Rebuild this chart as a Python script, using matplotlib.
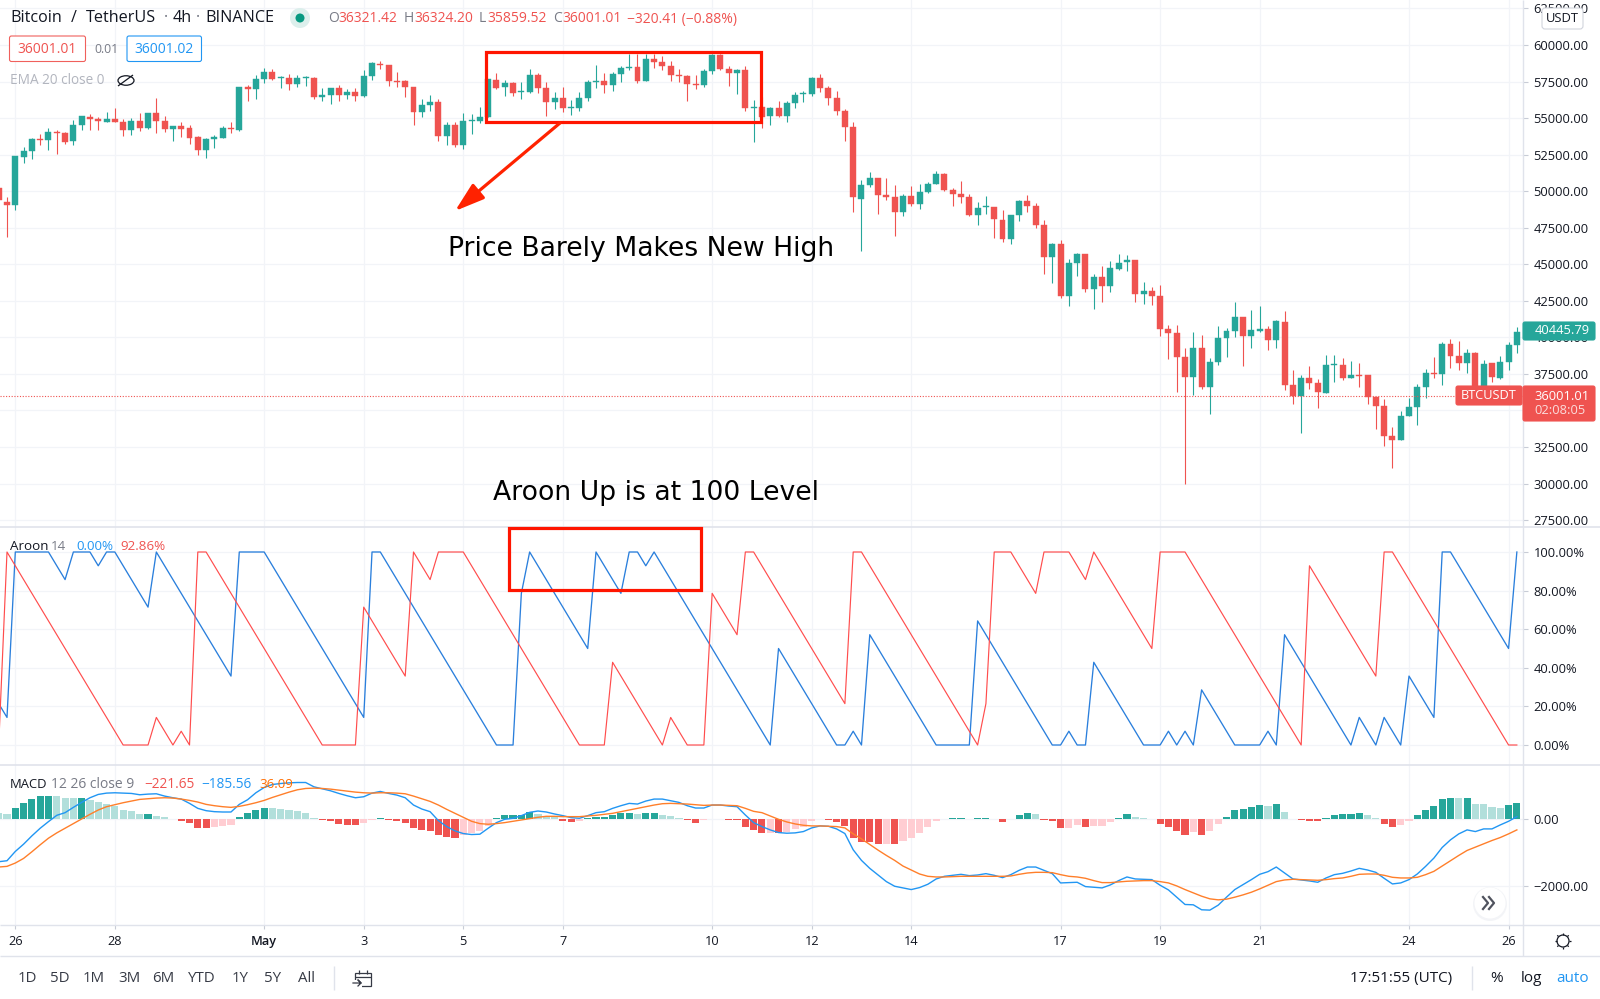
import matplotlib
matplotlib.use("Agg")
import matplotlib.pyplot as plt
from matplotlib.patches import Rectangle, FancyBboxPatch, Circle, Ellipse
from matplotlib.ticker import FuncFormatter

plt.rcParams['font.family'] = ['Open Sans', 'DejaVu Sans']

# ---------- data ----------
open_ = [50196,49284,49056,52362,52750,53570,53525,54049,53958,53411,54505,55098,54961,54733,54961,54733,54186,54824,54323,55372,54802,54254,54460,54300,53684,52818,53548,53639,54323,54186,57104,56990,57674,58130,57743,57766,57332,57766,57766,56420,56580,57059,56580,56785,56512,57880,58700,58632,57538,57515,57127,55417,55873,56124,53753,54528,53160,54802,54824,55098,57606,
 57104,57378,56762,56785,57948,57059,56124,56352,55668,55714,56398,57492,57560,57287,58039,58427,58518,57538,59020,58837,58586,57971,57857,57332,57241,58199,59316,58358,58062,58267,55691,55736,55144,55691,55144,56056,56626,56626,57720,57082,56375,55486,54391,49489,50447,50880,49740,49603,48554,49672,49102,49945,50515,51154,50082,49786,
 49589,48404,48905,48951,48062,46716,48358,49316,48996,47674,45508,46397,42840,45098,45690,43319,44140,43502,44710,45166,45280,42954,43205,42818,40560,40332,38691,37300,39284,36616,38303,39945,40446,41381,40082,40469,40606,39808,41085,36753,36000,37254,36912,36228,38098,38098,37232,37437,37414,35909,35316,33287,33014,34632,35225,36616,37596,37505,39557,38759,38258,38965,36502,38235,37254,38303,39489]
close = [49398,49056,52408,52750,53570,53502,54026,54004,53388,54505,55121,54938,54779,54961,54733,54186,54824,54323,55372,54824,54232,54437,54277,53662,52818,53548,53684,54323,54254,57150,56990,57674,58130,57697,57811,57332,57743,57811,56420,56580,57059,56580,56762,56512,57880,58746,58632,57538,57469,57127,55417,55873,56101,53753,54528,53137,54802,54870,55098,57652,57082,
 57378,56740,56808,57925,57059,56124,56352,55668,55736,56398,57492,57560,57287,58016,58427,58518,57538,59020,58837,58586,57925,57902,57355,57264,58222,59316,58358,58062,58267,55668,55736,55098,55714,55144,56056,56557,56694,57720,57082,56398,55463,54414,49626,50447,50880,49763,49626,48554,49672,49102,49945,50492,51154,50082,49808,49626,
 48404,48882,48951,48084,46716,48358,49316,48996,47674,45508,46397,42840,45098,45690,43319,44140,43524,44733,45120,45303,42954,43205,42840,40560,40332,38668,37300,39284,36593,38303,39945,40446,41381,40082,40492,40606,39808,41108,36753,36000,37209,36912,36251,38098,38166,37209,37437,37391,35909,35316,33264,33014,34632,35225,36616,37574,37505,39557,38759,38258,38942,36502,38212,37277,38303,39489,40401]
high = [50538,49580,52408,53023,53616,53890,54323,54186,54026,54870,55166,55258,55098,55440,55691,54938,55030,55326,55372,56398,55144,54460,54710,54505,53776,53616,53844,54460,54710,57150,57264,57948,58404,58358,57880,57994,57971,57880,57811,57036,57059,57241,56968,57059,58290,58860,58928,58632,58130,57606,57150,56329,56603,56284,54710,54733,55372,55258,55782,57652,58062,
 57606,57492,57492,58336,58062,57469,56785,57104,56261,56785,57606,58632,58062,58176,58586,59384,59384,59384,59384,59248,58928,58381,57971,57948,58381,59384,59384,58564,58336,58564,56238,56466,55782,56170,56170,56808,56876,57811,57994,57196,56854,55622,54733,50766,51313,50880,50880,50424,49786,50378,50492,50652,51404,51222,50242,50675,
 49840,49270,49703,48951,48700,48404,49430,49772,49224,48062,46443,46648,45394,45782,45736,44368,44870,45234,45736,45622,45326,43775,43479,43570,40834,40857,39261,40401,40196,38577,40766,40674,42430,41404,41906,42156,40766,41222,41792,37802,37414,38075,37186,38805,38805,38577,38372,38235,37414,35932,35772,33880,34952,35864,36844,37870,38645,39717,39922,39740,39192,39010,38463,38280,38714,39671,40720]
low = [48942,46890,48714,51952,52225,53160,52841,52567,53228,53137,54186,54186,54163,54710,54710,53776,53867,54140,54232,53958,54049,53456,53684,53228,52453,52294,52978,53639,54004,54140,56192,56306,57401,57606,57082,56899,57104,57196,56329,56147,55987,56170,56284,56170,56466,57606,58358,57196,57104,56420,54528,55075,55508,53456,53160,53046,52864,53912,54642,55052,57013,
 56534,56534,56284,56740,56694,55144,55645,55417,55189,55508,56170,57082,56694,56854,57469,58290,57424,57515,58427,58267,57515,57492,56170,56990,57150,57994,58290,57218,56648,55508,53388,54323,54528,55098,54733,55691,56124,56534,56808,55896,55189,53434,48554,45932,50264,48418,49398,46958,48326,49010,48760,49900,50470,50036,49010,49170,
 48335,47674,48472,46830,46511,46420,47970,48609,47514,44368,43752,42726,42134,44208,43114,41951,42430,43091,44642,44528,42453,42316,42202,40082,38531,36274,30000,36046,36502,34792,38121,38668,40036,38075,39306,40378,39124,39261,36388,35453,33470,36479,35157,36206,36935,37118,37209,36616,35476,33766,32558,31076,32968,34610,33994,35841,37209,36776,37893,37756,37574,36434,36388,36935,37186,37756,38919]

aroon_up = [21.43,14.29,100,100,100,100,100,92.86,85.71,100,100,100,92.86,100,100,92.86,85.71,78.57,71.43,100,92.86,85.71,78.57,71.43,64.29,57.14,50,42.86,35.71,100,100,100,100,
 92.86,85.71,78.57,71.43,64.29,57.14,50,42.86,35.71,28.57,21.43,14.29,100,100,
 92.86,85.71,78.57,71.43,64.29,57.14,50,42.86,35.71,28.57,21.43,14.29,7.14,0,0,0,78.57,100,
 92.86,85.71,78.57,71.43,64.29,57.14,50,100,92.86,85.71,78.57,100,100,92.86,100,
 92.86,85.71,78.57,71.43,64.29,57.14,50,42.86,35.71,28.57,21.43,14.29,7.14,0,
 50,42.86,35.71,28.57,21.43,14.29,7.14,0,0,7.14,0,57.14,50,42.86,35.71,28.57,21.43,14.29,7.14,0,0,0,0,0,
 64.29,57.14,50,42.86,35.71,28.57,21.43,14.29,7.14,0,0,7.14,0,0,42.86,35.71,28.57,21.43,14.29,7.14,0,0,0,7.14,0,7.14,0,
 28.57,21.43,14.29,7.14,0,0,0,0,7.14,0,57.14,50,42.86,35.71,28.57,21.43,14.29,7.14,0,14.29,7.14,0,14.29,7.14,0,
 35.71,28.57,21.43,14.29,100,100,92.86,85.71,78.57,71.43,64.29,57.14,50,100]
aroon_down = [0,100,92.86,85.71,78.57,71.43,64.29,57.14,50,42.86,35.71,28.57,21.43,14.29,7.14,0,0,0,0,14.29,7.14,0,7.14,0,100,100,
 92.86,85.71,78.57,71.43,64.29,57.14,50,42.86,35.71,28.57,21.43,14.29,7.14,0,0,0,0,0,
 71.43,64.29,57.14,50,42.86,35.71,100,92.86,85.71,100,100,100,100,
 92.86,85.71,78.57,71.43,64.29,57.14,50,42.86,35.71,28.57,21.43,14.29,7.14,0,0,0,0,
 42.86,35.71,28.57,21.43,14.29,7.14,0,14.29,7.14,0,0,0,78.57,71.43,64.29,57.14,100,100,
 92.86,85.71,78.57,71.43,64.29,57.14,50,42.86,35.71,28.57,21.43,100,100,
 92.86,85.71,78.57,71.43,64.29,57.14,50,42.86,35.71,28.57,21.43,14.29,7.14,0,21.43,100,100,100,
 92.86,85.71,78.57,100,100,100,100,92.86,85.71,100,92.86,85.71,78.57,71.43,64.29,57.14,50,100,100,100,100,
 92.86,85.71,78.57,71.43,64.29,57.14,50,42.86,35.71,28.57,21.43,14.29,7.14,0,
 92.86,85.71,78.57,71.43,64.29,57.14,50,42.86,35.71,100,100,
 92.86,85.71,78.57,71.43,64.29,57.14,50,42.86,35.71,28.57,21.43,14.29,7.14,0,0]

macd = [-1280,-1250,-970,-750,-500,-270,-70,120,200,360,510,650,750,790,800,790,780,740,760,770,700,650,610,480,330,260,230,220,220,450,590,800,960,1050,1080,1100,1110,1110,980,920,860,780,710,650,680,790,840,780,730,650,430,310,230,-40,-220,-350,-430,-460,-450,-270,-100,0,30,110,210,250,220,160,110,50,30,110,200,230,330,410,480,460,550,610,610,560,510,410,340,340,430,430,400,380,130,-100,
 -220,-320,-400,-420,-410,-370,-260,-200,-210,-290,-430,-920,-1240,-1480,-1680,-1880,-2020,-2070,-2120,-2060,-1960,-1800,-1720,-1690,-1660,-1700,-1680,-1640,-1690,-1760,-1670,-1540,-1440,-1440,-1540,-1640,-1920,-1910,-1900,-2030,-2050,-2070,-1980,-1850,-1740,-1800,-1810,-1820,-1990,-2130,-2350,-2570,-2580,-2730,-2740,-2590,-2350,-2120,-1970,-1820,-1660,-1580,-1440,-1620,-1800,-1830,-1860,-1900,-1770,-1670,-1630,-1560,-1480,-1530,-1600,-1780,-1950,-1920,-1820,-1650,-1420,-1170,-850,-620,-440,-320,-370,-290,-290,-170,-60,80]
signal = [-1440,-1420,-1320,-1180,-980,-770,-570,-410,-270,-130,10,150,280,380,440,500,550,600,620,640,650,640,610,570,520,450,410,380,360,390,440,500,570,660,740,820,890,930,940,930,910,880,850,820,800,790,800,800,790,770,700,620,540,430,300,180,60,-60,-130,-150,-130,-100,-60,-20,20,60,90,90,80,80,80,100,120,150,180,230,280,330,380,430,470,480,470,460,440,420,430,430,420,410,330,240,
 200,100,0,-80,-140,-180,-200,-200,-210,-220,-260,-440,-590,-760,-930,-1090,-1240,-1410,-1530,-1650,-1720,-1740,-1740,-1730,-1720,-1720,-1720,-1720,-1720,-1720,-1710,-1660,-1620,-1600,-1600,-1610,-1670,-1720,-1740,-1780,-1850,-1910,-1910,-1890,-1870,-1860,-1850,-1850,-1880,-1920,-2010,-2120,-2220,-2320,-2400,-2430,-2410,-2350,-2280,-2200,-2100,-1990,-1880,-1830,-1810,-1820,-1830,-1840,-1820,-1790,-1770,-1720,-1660,-1650,-1650,-1690,-1750,-1770,-1770,-1750,-1670,-1570,-1410,-1250,-1090,-940,-840,-740,-640,-550,-440,-320]
hist = [180,160,350,500,620,690,710,700,640,630,640,580,520,450,400,280,240,160,170,100,60,20,-50,-100,-250,-260,-240,-200,-160,70,190,270,350,345,300,270,240,190,50,-20,-40,-140,-160,-180,-100,-20,40,-20,-60,-100,-270,-330,-340,-480,-520,-570,-470,-400,-360,-200,30,120,130,135,230,160,100,70,-40,-80,-50,30,70,80,140,190,195,150,180,185,140,100,40,-30,-100,-30,20,10,-20,-25,-220,-320,
 -410,-400,-410,-380,-280,-220,-60,20,-10,-80,-200,-550,-680,-700,-750,-745,-760,-640,-560,-400,-240,-60,20,25,50,10,30,40,20,-80,10,130,190,160,-20,-60,-270,-260,-160,-240,-200,-190,-70,40,160,60,40,10,-140,-220,-340,-470,-380,-460,-360,-150,60,280,320,370,420,400,460,220,10,-20,-40,-60,50,130,150,170,190,120,50,-140,-240,-170,-60,130,280,400,600,650,640,645,460,455,360,355,420,480]

bars = list(range(-2, 182))
for name, s in [('o',open_),('c',close),('h',high),('l',low),('u',aroon_up),('d',aroon_down),('m',macd),('s',signal),('x',hist)]:
    assert len(s) == len(bars), (name, len(s))

day_ticks = [0, 12, 30, 42, 54, 66, 84, 96, 108, 126, 138, 150, 168, 180]
day_labels = ['26', '28', 'May', '3', '5', '7', '10', '12', '14', '17', '19', '21', '24', '26']
price_ticks = [27500 + 2500 * k for k in range(15)]
aroon_ticks = [0, 20, 40, 60, 80, 100]
macd_ticks = [-2000, 0]
last_price = 36001.01

# ---------- colours ----------
UP, DOWN = '#26a69a', '#ef5350'
LIGHT_UP, LIGHT_DOWN = '#b2dfdb', '#ffcdd2'
GRID, BORDER = '#f2f4f8', '#e0e3eb'
INK = '#131722'
W, H = 1600, 999
fig = plt.figure(figsize=(W / 100, H / 100), dpi=100, facecolor='white')

def pane(y0, y1):
    ax = fig.add_axes([0, 1 - y1 / H, 1523 / W, (y1 - y0) / H])
    for s in ax.spines.values():
        s.set_visible(False)
    ax.set_xlim(-1.844, 181.74)
    ax.set_xticks(day_ticks)
    ax.yaxis.tick_right()
    ax.grid(True, color=GRID, lw=0.9)
    ax.set_axisbelow(True)
    ax.tick_params(axis='x', length=0, labelbottom=False)
    ax.tick_params(axis='y', length=3.6, width=0.8, color='#c8ccd6', labelsize=9.3, labelcolor=INK, pad=4)
    return ax

# price pane
ax1 = pane(0, 527)
ax1.set_ylim(27031, 63078)
ax1.set_yticks(price_ticks)
ax1.yaxis.set_major_formatter(FuncFormatter(lambda v, p: f'{v:.2f}'))
cols = [UP if c >= o else DOWN for o, c in zip(open_, close)]
ax1.vlines(bars, low, high, colors=cols, lw=0.8, zorder=3)
ax1.bar(bars, [max(abs(c - o), 60) for o, c in zip(open_, close)], bottom=[min(o, c) for o, c in zip(open_, close)],
        width=0.72, color=cols, edgecolor=cols, lw=0.3, zorder=4)
ax1.axhline(last_price, color=DOWN, lw=0.8, ls=(0, (1, 1.5)), zorder=5)

# aroon pane
ax2 = pane(527, 765)
ax2.set_ylim(-10.36, 112.95)
ax2.set_yticks(aroon_ticks)
ax2.yaxis.set_major_formatter(FuncFormatter(lambda v, p: f'{v:.2f}%'))
ax2.plot(bars, aroon_up, color='#2a7fdc', lw=0.95, zorder=3)
ax2.plot(bars, aroon_down, color='#ff4d4d', lw=0.85, zorder=3)

# macd pane
ax3 = pane(765, 925)
ax3.set_ylim(-3189, 1638)
ax3.set_yticks(macd_ticks)
ax3.yaxis.set_major_formatter(FuncFormatter(lambda v, p: (f'{v:.2f}').replace('-', '\u2212')))
hcols = []
prev = None
for v in hist:
    rising = prev is None or v >= prev
    if v >= 0:
        hcols.append(UP if (rising and prev is not None) else LIGHT_UP)
    else:
        hcols.append(LIGHT_DOWN if rising else DOWN)
    prev = v
ax3.bar(bars, hist, width=0.86, color=hcols, lw=0, zorder=2)
ax3.plot(bars, macd, color='#2196f3', lw=1.0, zorder=3)
ax3.plot(bars, signal, color='#ff7f2a', lw=1.0, zorder=4)
ax3.tick_params(axis='x', length=3, width=0.8, color='#c8ccd6', labelbottom=True, labelsize=9.2, labelcolor=INK, pad=4.5)
ax3.set_xticklabels(day_labels)
for t in ax3.get_xticklabels():
    if t.get_text() == 'May':
        t.set_fontweight('semibold')

# ---------- overlay in pixel coordinates for chrome and annotations ----------
ov = fig.add_axes([0, 0, 1, 1], zorder=10)
ov.set_xlim(0, W)
ov.set_ylim(H, 0)
ov.axis('off')
ov.patch.set_alpha(0)

def line(x0, y0, x1, y1, c=BORDER, lw=1.0, z=6):
    ov.plot([x0, x1], [y0, y1], color=c, lw=lw, zorder=z, solid_capstyle='butt')

def txt(x, y, s, c=INK, size=9.0, ha='left', z=20, **kw):
    ov.text(x, y, s, color=c, fontsize=size, ha=ha, va='center', zorder=z, **kw)

def box(x0, y0, x1, y1, fc, ec=None, r=2.0, z=12, lw=0.8):
    ov.add_patch(FancyBboxPatch((x0 + r, y0 + r), x1 - x0 - 2 * r, y1 - y0 - 2 * r,
                                boxstyle=f'round,pad={r},rounding_size={r}', fc=fc, ec=ec or fc, lw=lw, zorder=z,
                                mutation_aspect=1))

# separators
line(0, 527, 1600, 527, lw=1.2)
line(0, 765, 1600, 765, lw=1.2)
line(0, 925, 1600, 925, lw=1.0)
line(0, 956, 1600, 956, lw=1.0)
line(1523, 0, 1523, 956, lw=1.0)

# header legend
for x, s in [(10, 'Bitcoin'), (71, '/'), (86, 'TetherUS'), (172.5, '4h'), (205, 'BINANCE')]:
    txt(x, 18, s, size=11.6)
txt(164, 18, '·', c='#787b86', size=11.6)
txt(196, 18, '·', c='#787b86', size=11.6)
ov.add_patch(Circle((300, 18), 10, fc='#dcefec', ec='none', zorder=12))
ov.add_patch(Circle((300, 18), 4.5, fc='#089981', ec='none', zorder=13))
for x, lab, xv, val in [(328, 'O', 338, '36321.42'), (404, 'H', 414.5, '36324.20'), (479, 'L', 487.3, '35859.52'), (553, 'C', 562.5, '36001.01')]:
    txt(x, 19, lab, c='#787b86', size=10)
    txt(xv, 19, val, c=DOWN, size=10)
txt(627, 19, '\u2212320.41 (\u22120.88%)', c=DOWN, size=10)

box(9.5, 36, 85.5, 61.5, 'white', ec='#f0605c')
txt(47.5, 49.5, '36001.01', c=DOWN, size=10, ha='center')
txt(94, 49.5, '0.01', c='#787b86', size=8.8)
box(127, 36, 201.5, 61.5, 'white', ec='#2196f3')
txt(164, 49.5, '36001.02', c='#2196f3', size=10, ha='center')
txt(10, 80.5, 'EMA 20 close 0', c='#b2b5be', size=9.8)
ov.add_patch(Ellipse((126, 80.5), 16, 9.5, fc='none', ec=INK, lw=0.9, zorder=12))
line(118, 86, 133, 75, c=INK, lw=0.9, z=12)

# annotations
ov.add_patch(Rectangle((486, 51.5), 275, 70.5, fc='none', ec='#ff1500', lw=2.3, zorder=15))
ov.add_patch(Rectangle((508.5, 528), 192, 62, fc='none', ec='#ff1500', lw=2.3, zorder=15))
ov.annotate('', xy=(455, 211), xytext=(560, 123),
            arrowprops=dict(arrowstyle='-|>,head_length=1.0,head_width=0.32', color='#ff2200', lw=2.3,
                            mutation_scale=18, shrinkA=0, shrinkB=0), zorder=15)
ov.text(448, 248.5, 'Price Barely Makes New High', family='DejaVu Sans', fontsize=19.2, color='black', va='center', zorder=20)
ov.text(493, 492.5, 'Aroon Up is at 100 Level', family='DejaVu Sans', fontsize=19.2, color='black', va='center', zorder=20)

# pane legends
txt(10, 546, 'Aroon', size=9.6)
txt(51, 546, '14', c='#787b86', size=9.6)
txt(76, 546, '0.00%', c='#2196f3', size=9.6)
txt(120, 546, '92.86%', c=DOWN, size=9.6)
txt(10, 784, 'MACD', size=9.4)
txt(51, 784, '12 26 close 9', c='#787b86', size=10)
txt(144, 784, '\u2212221.65', c=DOWN, size=9.8)
txt(201, 784, '\u2212185.56', c='#2196f3', size=9.8)
txt(259, 784, '36.09', c='#ff6d00', size=9.6)

# right-hand price badges
box(1542, 8, 1583, 29, 'white', ec='#d1d4dc', r=3)
txt(1562.5, 18.5, 'USDT', size=9.4, ha='center')
box(1523, 322, 1595, 340, UP)
txt(1534.5, 331, '40445.79', c='white', size=9.3)
box(1523, 386, 1595, 421, DOWN)
txt(1534.5, 396, '36001.01', c='white', size=9.3)
txt(1534.5, 411, '02:08:05', c='#fbdcdc', size=9.3)
box(1456, 386, 1522, 405, DOWN)
txt(1489, 395.5, 'BTCUSDT', c='white', size=9.2, ha='center')

# bottom toolbar
for x, s in [(27, '1D'), (60, '5D'), (94, '1M'), (129, '3M'), (163, '6M'), (202, 'YTD'), (240, '1Y'), (273, '5Y'), (306, 'All')]:
    txt(x, 978.5, s, c='#363a45', size=10.8, ha='center')
line(334, 966, 334, 990)
line(1472, 966, 1472, 990)
ov.add_patch(Rectangle((355, 973), 16, 13, fc='none', ec='#363a45', lw=0.9, zorder=12))
line(355, 976.5, 371, 976.5, c='#363a45', lw=0.9, z=13)
line(359, 970, 359, 974, c='#363a45', lw=0.9, z=13)
line(367, 970, 367, 974, c='#363a45', lw=0.9, z=13)
ov.add_patch(Rectangle((352, 980), 10, 7.5, fc='white', ec='none', zorder=13))
ov.plot([353, 361, 358, 361, 358], [983, 983, 980, 983, 986], color='#363a45', lw=0.9, zorder=14)
txt(1401, 978.5, '17:51:55 (UTC)', ha='center', size=11)
txt(1497, 978.5, '%', ha='center', size=11)
txt(1532, 978.5, 'log', ha='center', size=11)
txt(1573, 978.5, 'auto', c='#2196f3', ha='center', size=11)

# scroll button and settings icon
ov.add_patch(Circle((1490, 904), 17, fc='#eef0f4', ec='none', zorder=12, alpha=0.7))
ov.add_patch(Circle((1490, 903), 15.5, fc='white', ec='none', zorder=13))
for dx in (-3, 3):
    ov.plot([1486 + dx, 1491 + dx, 1486 + dx], [897, 903, 909], color='#50535e', lw=1.6, zorder=14)
ov.add_patch(Circle((1563, 941), 6, fc='none', ec=INK, lw=0.9, zorder=12))
for dx, dy in [(8, 0), (-8, 0), (0, 8), (0, -8), (5.7, 5.7), (-5.7, 5.7), (5.7, -5.7), (-5.7, -5.7)]:
    line(1563 + dx * 0.8, 941 + dy * 0.8, 1563 + dx, 941 + dy, c=INK, lw=0.9, z=12)

fig.savefig('out.png', dpi=100, facecolor='white')
